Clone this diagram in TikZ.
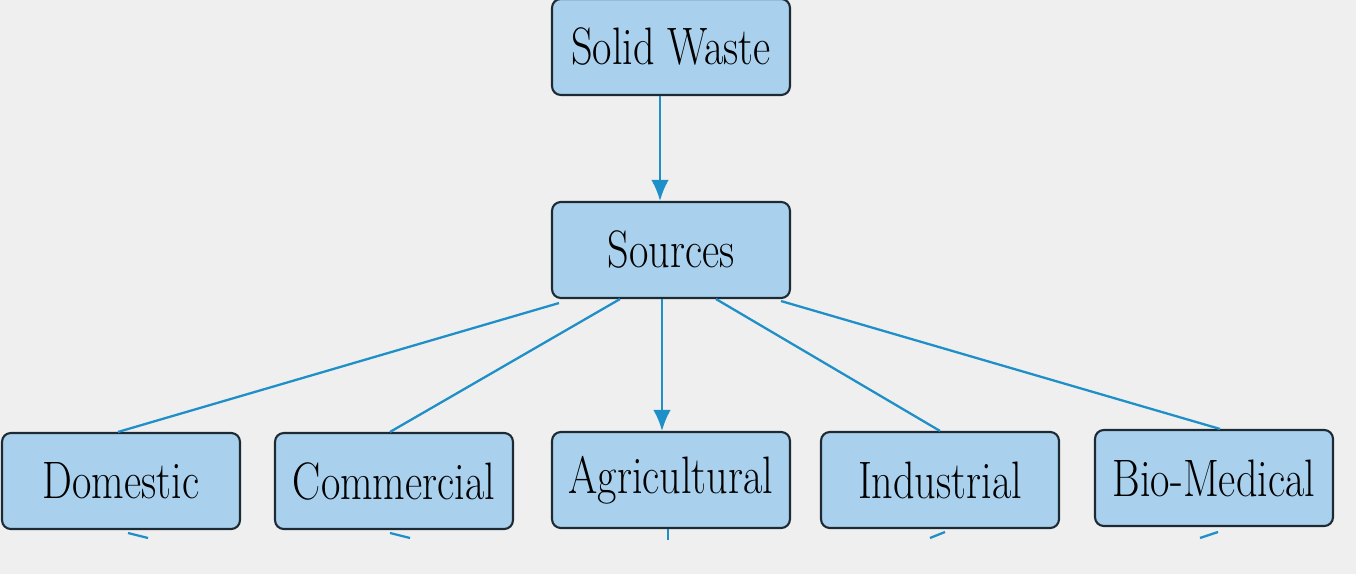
\documentclass[tikz,border=0pt]{standalone}
\usepackage{fontspec}
\newfontfamily\cond[FakeStretch=0.8]{Latin Modern Roman}
\definecolor{bg}{HTML}{EFEFEF}
\definecolor{boxfill}{HTML}{A9D1EE}
\definecolor{boxline}{HTML}{1E2A33}
\definecolor{conn}{HTML}{1F8FC8}
\begin{document}
\begin{tikzpicture}[x=0.02cm,y=-0.02cm,
  box/.style={draw=boxline,line width=1.2pt,fill=boxfill,rounded corners=5pt,minimum width=4.76cm,minimum height=1.92cm,inner sep=0pt,font=\cond\fontsize{30}{34}\selectfont},
  link/.style={draw=conn,line width=1.3pt},
  arr/.style={link,-{Latex[length=12pt,width=10pt]}}]
\usetikzlibrary{arrows.meta}
\fill[bg] (0,0) rectangle (1356,574);
\useasboundingbox (0,0) rectangle (1356,574);
\node[box] (sw) at (671,47) {Solid Waste};
\node[box] (src) at (671,250) {Sources};
\node[box] (dom) at (121,481) {Domestic};
\node[box] (com) at (394,481) {Commercial};
\node[box] (agr) at (671,480) {Agricultural};
\node[box] (ind) at (940,480) {Industrial};
\node[box] (bio) at (1214,478) {Bio-Medical};
\draw[arr] (sw.south -| 660,0) -- (src.north -| 660,0);
\draw[link] (src.south west) ++(8,4) coordinate (s1) -- (dom.north -| 118,0);
\draw[link] (src.south -| 620,0) -- (com.north -| 390,0);
\draw[arr] (src.south -| 662,0) -- (agr.north -| 662,0);
\draw[link] (src.south -| 716,0) -- (ind.north -| 940,0);
\draw[link] (src.south east) ++(-10,2) coordinate (s5) -- (bio.north -| 1220,0);
\coordinate (d1) at (128,533); \coordinate (d2) at (148,538);
\coordinate (c1) at (390,533); \coordinate (c2) at (410,538);
\coordinate (a2) at (668,540);
\coordinate (i1) at (945,532); \coordinate (i2) at (930,538);
\coordinate (b1) at (1218,532); \coordinate (b2) at (1200,538);
\draw[link] (d1) -- (d2);
\draw[link] (c1) -- (c2);
\draw[link] (agr.south -| 668,0) -- (a2);
\draw[link] (i1) -- (i2);
\draw[link] (b1) -- (b2);
\end{tikzpicture}
\end{document}
